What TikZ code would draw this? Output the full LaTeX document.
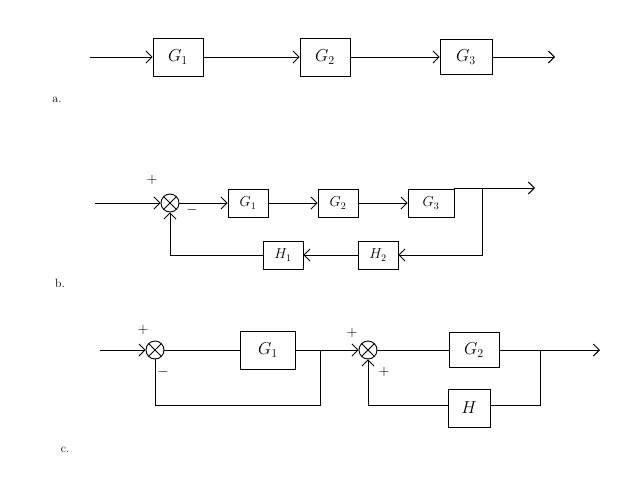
\documentclass[tikz,border=0pt]{standalone}
\usetikzlibrary{arrows.meta}
\begin{document}
\begin{tikzpicture}[x=1pt,y=-1pt,line width=0.9pt,>={Straight Barb[length=6pt]},
 blk/.style={draw,minimum width=50pt,minimum height=38pt,font=\LARGE},
 sblk/.style={draw,minimum width=40pt,minimum height=28pt,font=\Large},
 sum/.style={draw,circle,minimum size=18pt,inner sep=0pt,path picture={
   \draw (path picture bounding box.north west)--(path picture bounding box.south east)
         (path picture bounding box.north east)--(path picture bounding box.south west);}},
 lab/.style={font=\Large},
 let/.style={font=\large}]
\useasboundingbox (0,0) rectangle (640,480);
% a
\coordinate (ain) at (90,57);
\node[blk] (a1) at (178,57) {$G_1$};
\node[blk] (a2) at (325,57) {$G_2$};
\node[blk,minimum width=52pt,minimum height=35pt] (a3) at (466,57) {$G_3$};
\coordinate (aout) at (555,57);
\draw[->] (ain)--(a1); \draw[->] (a1)--(a2); \draw[->] (a2)--(a3); \draw[->] (a3)--(aout);
\node[let] (la) at (57,100) {a.};
% b
\coordinate (bin) at (95,203);
\node[sum] (bs) at (170,203) {};
\node[sblk] (b1) at (248,203) {$G_1$};
\node[sblk] (b2) at (338,203) {$G_2$};
\node[sblk,minimum width=46pt] (b3) at (431,203) {$G_3$};
\coordinate (bout) at (535,188);
\coordinate (bbr) at (482,188);
\coordinate (bbd) at (482,255);
\node[sblk] (h2) at (378,255) {$H_2$};
\node[sblk] (h1) at (283,255) {$H_1$};
\coordinate (bfl) at (170,255);
\draw[->] (bin)--(bs); \draw[->] (bs)--(b1); \draw[->] (b1)--(b2); \draw[->] (b2)--(b3);
\draw[->] (b3.east|-bout)--(bout);
\draw[->] (bbr)--(bbd)--(h2); \draw[->] (h2)--(h1); \draw[->] (h1)--(bfl)--(bs);
\node[lab] (bp) at (152,180) {$+$};
\node[lab] (bm) at (192,210) {$-$};
\node[let] (lb) at (60,283) {b.};
% c
\coordinate (cin) at (100,350);
\node[sum] (cs1) at (155,350) {};
\node[blk,minimum width=55pt] (c1) at (268,350) {$G_1$};
\coordinate (cbr) at (320,350);
\node[sum] (cs2) at (368,350) {};
\node[blk,minimum height=35pt] (c2) at (474,350) {$G_2$};
\coordinate (cobr) at (540,350);
\coordinate (cout) at (600,350);
\coordinate (cf1) at (320,405);
\coordinate (cf2) at (155,405);
\coordinate (cg1) at (540,405);
\node[blk,minimum width=42pt] (ch) at (469,408) {$H$};
\coordinate (cg2) at (368,405);
\draw[->] (cin)--(cs1); \draw (cs1)--(c1); \draw (c1)--(cbr); \draw[->] (cbr)--(cs2);
\draw (cbr)--(cf1)--(cf2)--(cs1);
\draw (cs2)--(c2); \draw[->] (c2)--(cout);
\draw (cobr)--(cg1)--(ch.east|-cg1); \draw[->] (ch.west|-cg2)--(cg2)--(cs2);
\node[lab] (cp1) at (143,330) {$+$};
\node[lab] (cm1) at (163,372) {$-$};
\node[lab] (cp2) at (352,333) {$+$};
\node[lab] (cp3) at (384,372) {$+$};
\node[let] (lc) at (65,450) {c.};
\end{tikzpicture}
\end{document}
